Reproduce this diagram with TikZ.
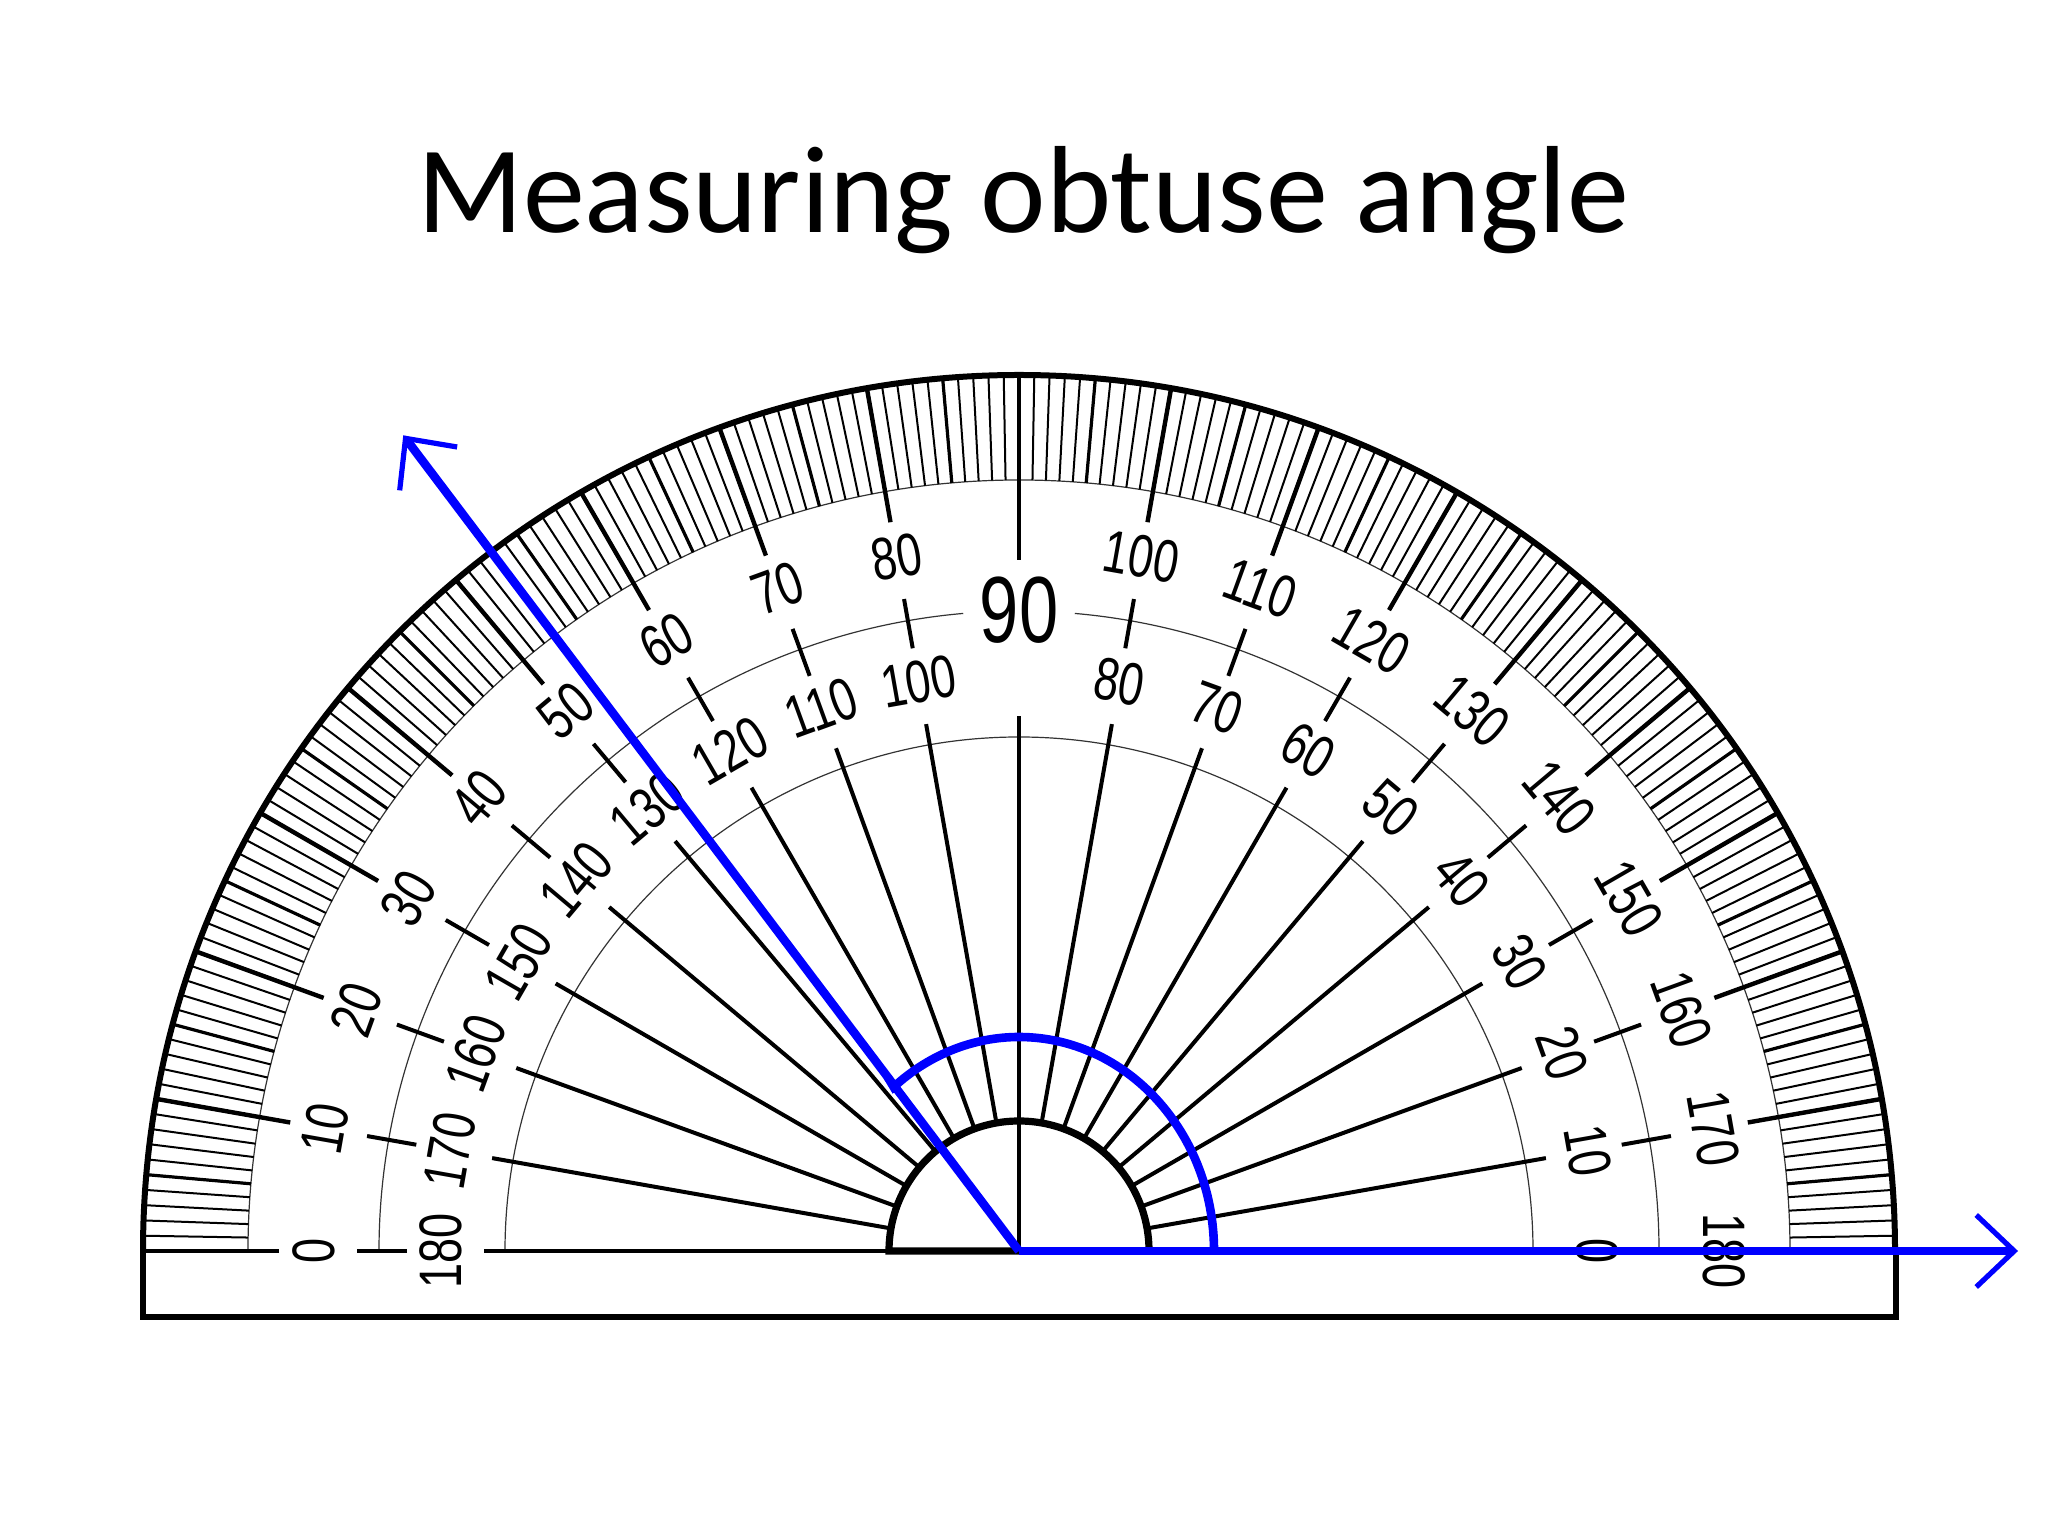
\documentclass[tikz,border=0pt]{standalone}
\usepackage{fontspec}
\setmainfont{Liberation Sans}
\newfontfamily\titlefont{Carlito}
\usetikzlibrary{arrows.meta}
\tikzset{
  lab/.style={inner sep=0pt,font=\fontsize{30}{30}\selectfont},
  biglab/.style={inner sep=0pt,font=\fontsize{47}{47}\selectfont},
  thinline/.style={line width=0.6pt,black!80},
  bluel/.style={blue,line width=4.3pt},
  barb/.style={-{Straight Barb[length=19pt,width=36pt,line width=2.6pt]}}
}
\begin{document}
\begin{tikzpicture}[x=0.5pt,y=0.5pt]
\useasboundingbox (0,0) rectangle (2048,1536);
\node[anchor=base,font=\titlefont\fontsize{62}{62}\selectfont] (title) at (1023,1303) {Measuring obtuse angle};
\coordinate (O) at (1019,285);
\begin{scope}[shift={(1019,285)}]
  % base box
  \draw[line width=3pt] (-876,0) -- (-876,-66) -- (877,-66) -- (877,0);
  % outer arc
  \draw[line width=3pt] (876,0) arc[start angle=0,end angle=180,radius=876];
  \draw[thinline] (771,0) arc[start angle=0,end angle=180,radius=771];
  % degree ticks
  \foreach \a in {0,...,180} \draw[line width=1pt] (\a:771) -- (\a:876);
  \foreach \a in {0,5,...,180} \draw[line width=1.6pt] (\a:771) -- (\a:876);
  \foreach \a in {0,10,...,180} \draw[line width=2.2pt] (\a:740) -- (\a:876);
  \draw[line width=2.2pt] (90:691) -- (90:876);
  % middle thin circle with gap at 90
  \draw[thinline] (640,0) arc[start angle=0,end angle=85,radius=640];
  \draw[thinline] (95:640) arc[start angle=95,end angle=180,radius=640];
  % inner thin circle
  \draw[thinline] (514,0) arc[start angle=0,end angle=180,radius=514];
  % small dashes
  \foreach \a in {0,10,...,80,100,110,...,180} \draw[line width=2pt] (\a:612) -- (\a:662);
  % rays
  \foreach \a in {0,10,...,180} \draw[line width=2pt] (\a:130) -- (\a:535);
  \draw[line width=1.6pt] (0,0) -- (90:535);
  % small semicircle
  \draw[line width=3.6pt] (130,0) arc[start angle=0,end angle=180,radius=130] -- (0,0);
  % labels
  \foreach \v in {0,10,...,180}{
    \ifnum\v=90\else
      \pgfmathtruncatemacro\t{180-\v}
      \node[lab,rotate=\t-90] (o\v) at (\t:705) {\scalebox{0.75}[1]{\v}};
      \node[lab,rotate=\v-90] (i\v) at (\v:578) {\scalebox{0.75}[1]{\v}};
    \fi
  }
  \node[biglab] (n90) at (90:641) {\scalebox{0.75}[1]{90}};
  % blue angle
  \coordinate (tipA) at (127.05:1022);
  \coordinate (tipB) at (999,0);
  \coordinate (arcEnd) at (127.05:218);
  \draw[bluel] (195,0) arc[start angle=0,end angle=130,x radius=195,y radius=214] -- (arcEnd);
  \draw[bluel,barb] (0,0) -- (tipA);
  \draw[bluel,barb] (0,0) -- (tipB);
\end{scope}
\end{tikzpicture}
\end{document}
